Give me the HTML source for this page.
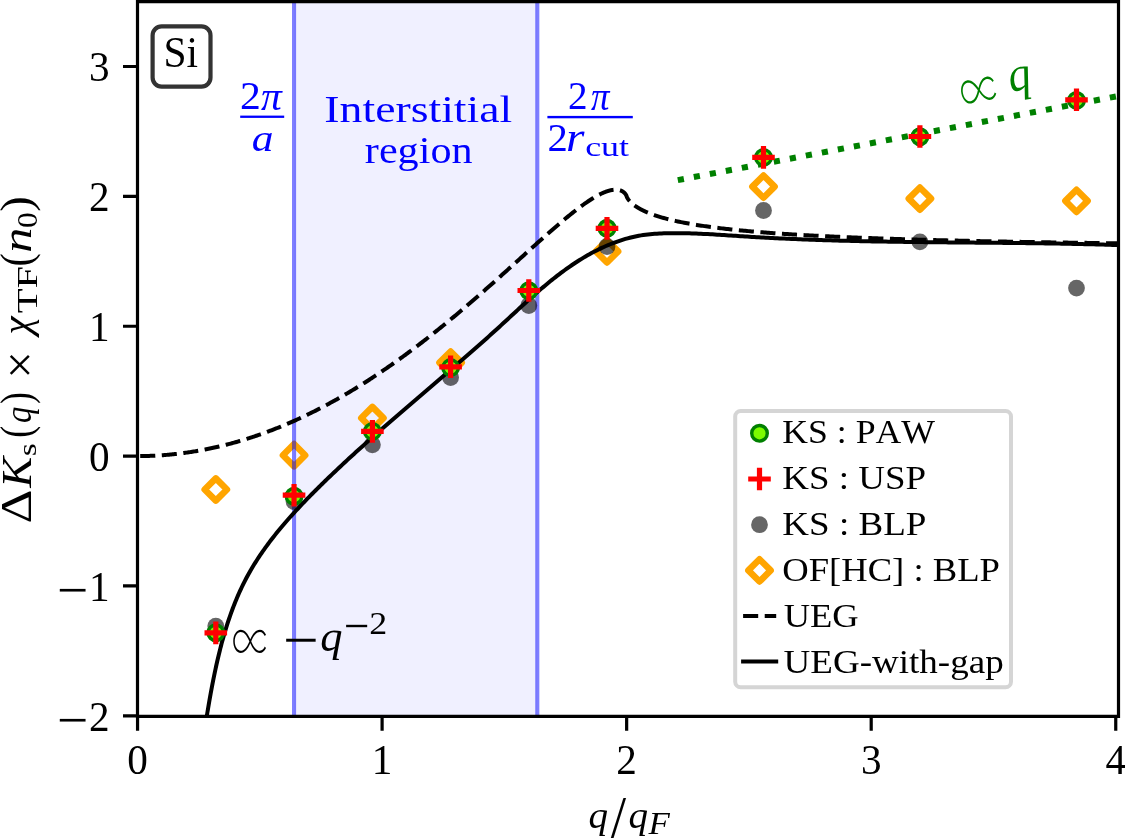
<!DOCTYPE html><html><head><meta charset="utf-8"><title>Delta K_s plot</title><style>html,body{margin:0;padding:0;background:#fff;}svg{display:block;}text{font-family:"Liberation Serif","DejaVu Serif",serif;font-kerning:none;}</style></head><body>
<svg width="1125" height="838" viewBox="0 0 1125 838">
<defs><clipPath id="ax"><rect x="137.5" y="1.6" width="981.0" height="714.6999999999999"/></clipPath></defs>
<rect x="0" y="0" width="1125" height="838" fill="#fff"/>
<rect x="294.05" y="1.6" width="243.24999999999994" height="714.6999999999999" fill="#f0f0ff"/>
<g clip-path="url(#ax)">
<path d="M215.8 478.35 L226.95 489.5 L215.8 500.65 L204.65 489.5 Z" fill="none" stroke="#ffa500" stroke-width="6.5" stroke-linejoin="round"/>
<path d="M294.05 444.05 L305.2 455.2 L294.05 466.35 L282.9 455.2 Z" fill="none" stroke="#ffa500" stroke-width="6.5" stroke-linejoin="round"/>
<path d="M372.4 406.85 L383.55 418 L372.4 429.15 L361.25 418 Z" fill="none" stroke="#ffa500" stroke-width="6.5" stroke-linejoin="round"/>
<path d="M450.6 351.45 L461.75 362.6 L450.6 373.75 L439.45 362.6 Z" fill="none" stroke="#ffa500" stroke-width="6.5" stroke-linejoin="round"/>
<path d="M607 240.25 L618.15 251.4 L607 262.55 L595.85 251.4 Z" fill="none" stroke="#ffa500" stroke-width="6.5" stroke-linejoin="round"/>
<path d="M763.5 175.45 L774.65 186.6 L763.5 197.75 L752.35 186.6 Z" fill="none" stroke="#ffa500" stroke-width="6.5" stroke-linejoin="round"/>
<path d="M919.9 187.45 L931.05 198.6 L919.9 209.75 L908.75 198.6 Z" fill="none" stroke="#ffa500" stroke-width="6.5" stroke-linejoin="round"/>
<path d="M1076.5 189.75 L1087.65 200.9 L1076.5 212.05 L1065.35 200.9 Z" fill="none" stroke="#ffa500" stroke-width="6.5" stroke-linejoin="round"/>
<path d="M294.05 1.6 V716.3 M537.3 1.6 V716.3" stroke="#0000ff" stroke-opacity="0.5" stroke-width="4.1" fill="none"/>
<circle cx="215.8" cy="626.1" r="8.4" fill="#000" fill-opacity="0.6"/>
<circle cx="294.05" cy="501.5" r="8.4" fill="#000" fill-opacity="0.6"/>
<circle cx="372.4" cy="444.8" r="8.4" fill="#000" fill-opacity="0.6"/>
<circle cx="450.6" cy="377.5" r="8.4" fill="#000" fill-opacity="0.6"/>
<circle cx="528.8" cy="305.5" r="8.4" fill="#000" fill-opacity="0.6"/>
<circle cx="607" cy="246.5" r="8.4" fill="#000" fill-opacity="0.6"/>
<circle cx="763.5" cy="210.5" r="8.4" fill="#000" fill-opacity="0.6"/>
<circle cx="919.9" cy="241.9" r="8.4" fill="#000" fill-opacity="0.6"/>
<circle cx="1076.5" cy="288.1" r="8.4" fill="#000" fill-opacity="0.6"/>
<path d="M137.55 456.1 L138.71 456.1 L139.88 456.09 L141.04 456.08 L142.21 456.07 L143.37 456.05 L144.54 456.03 L145.7 456 L146.87 455.97 L148.03 455.94 L149.2 455.9 L150.36 455.86 L151.52 455.82 L152.69 455.77 L153.85 455.72 L155.02 455.66 L156.18 455.6 L157.35 455.53 L158.51 455.46 L159.68 455.39 L160.84 455.31 L162 455.23 L163.17 455.15 L164.33 455.06 L165.5 454.97 L166.66 454.87 L167.83 454.77 L168.99 454.67 L170.16 454.56 L171.32 454.45 L172.49 454.33 L173.65 454.21 L174.81 454.09 L175.98 453.96 L177.14 453.83 L178.31 453.7 L179.47 453.56 L180.64 453.41 L181.8 453.27 L182.97 453.12 L184.13 452.96 L185.3 452.8 L186.46 452.64 L187.62 452.47 L188.79 452.3 L189.95 452.13 L191.12 451.95 L192.28 451.77 L193.45 451.58 L194.61 451.39 L195.78 451.2 L196.94 451 L198.11 450.8 L199.27 450.59 L200.43 450.38 L201.6 450.17 L202.76 449.95 L203.93 449.73 L205.09 449.5 L206.26 449.27 L207.42 449.04 L208.59 448.81 L209.75 448.56 L210.92 448.32 L212.08 448.07 L213.24 447.82 L214.41 447.56 L215.57 447.3 L216.74 447.04 L217.9 446.77 L219.07 446.5 L220.23 446.22 L221.4 445.94 L222.56 445.66 L223.72 445.37 L224.89 445.08 L226.05 444.79 L227.22 444.49 L228.38 444.18 L229.55 443.88 L230.71 443.57 L231.88 443.25 L233.04 442.93 L234.21 442.61 L235.37 442.29 L236.53 441.96 L237.7 441.62 L238.86 441.28 L240.03 440.94 L241.19 440.6 L242.36 440.25 L243.52 439.89 L244.69 439.54 L245.85 439.18 L247.02 438.81 L248.18 438.44 L249.34 438.07 L250.51 437.7 L251.67 437.32 L252.84 436.93 L254 436.54 L255.17 436.15 L256.33 435.76 L257.5 435.36 L258.66 434.96 L259.82 434.55 L260.99 434.14 L262.15 433.72 L263.32 433.31 L264.48 432.88 L265.65 432.46 L266.81 432.03 L267.98 431.59 L269.14 431.16 L270.31 430.72 L271.47 430.27 L272.63 429.82 L273.8 429.37 L274.96 428.91 L276.13 428.45 L277.29 427.99 L278.46 427.52 L279.62 427.05 L280.79 426.58 L281.95 426.1 L283.12 425.62 L284.28 425.13 L285.44 424.64 L286.61 424.15 L287.77 423.65 L288.94 423.15 L290.1 422.64 L291.27 422.13 L292.43 421.62 L293.6 421.1 L294.76 420.58 L295.93 420.06 L297.09 419.53 L298.25 419 L299.42 418.47 L300.58 417.93 L301.75 417.38 L302.91 416.84 L304.08 416.29 L305.24 415.73 L306.41 415.18 L307.57 414.62 L308.74 414.05 L309.9 413.48 L311.06 412.91 L312.23 412.33 L313.39 411.76 L314.56 411.17 L315.72 410.59 L316.89 409.99 L318.05 409.4 L319.22 408.8 L320.38 408.2 L321.54 407.6 L322.71 406.99 L323.87 406.38 L325.04 405.76 L326.2 405.14 L327.37 404.52 L328.53 403.89 L329.7 403.26 L330.86 402.62 L332.03 401.99 L333.19 401.35 L334.35 400.7 L335.52 400.05 L336.68 399.4 L337.85 398.74 L339.01 398.08 L340.18 397.42 L341.34 396.76 L342.51 396.09 L343.67 395.41 L344.84 394.74 L346 394.05 L347.16 393.37 L348.33 392.68 L349.49 391.99 L350.66 391.3 L351.82 390.6 L352.99 389.9 L354.15 389.19 L355.32 388.48 L356.48 387.77 L357.64 387.05 L358.81 386.34 L359.97 385.61 L361.14 384.89 L362.3 384.16 L363.47 383.42 L364.63 382.69 L365.8 381.95 L366.96 381.2 L368.13 380.46 L369.29 379.71 L370.45 378.95 L371.62 378.2 L372.78 377.44 L373.95 376.67 L375.11 375.91 L376.28 375.13 L377.44 374.36 L378.61 373.58 L379.77 372.8 L380.94 372.02 L382.1 371.23 L383.26 370.44 L384.43 369.65 L385.59 368.85 L386.76 368.05 L387.92 367.25 L389.09 366.44 L390.25 365.63 L391.42 364.82 L392.58 364 L393.75 363.18 L394.91 362.36 L396.07 361.53 L397.24 360.7 L398.4 359.87 L399.57 359.03 L400.73 358.19 L401.9 357.35 L403.06 356.5 L404.23 355.66 L405.39 354.8 L406.56 353.95 L407.72 353.09 L408.88 352.23 L410.05 351.37 L411.21 350.5 L412.38 349.63 L413.54 348.76 L414.71 347.88 L415.87 347 L417.04 346.12 L418.2 345.23 L419.36 344.34 L420.53 343.45 L421.69 342.56 L422.86 341.66 L424.02 340.76 L425.19 339.86 L426.35 338.95 L427.52 338.04 L428.68 337.13 L429.85 336.22 L431.01 335.3 L432.17 334.38 L433.34 333.46 L434.5 332.53 L435.67 331.6 L436.83 330.67 L438 329.74 L439.16 328.8 L440.33 327.86 L441.49 326.92 L442.66 325.98 L443.82 325.03 L444.98 324.08 L446.15 323.13 L447.31 322.17 L448.48 321.22 L449.64 320.26 L450.81 319.29 L451.97 318.33 L453.14 317.36 L454.3 316.39 L455.46 315.42 L456.63 314.44 L457.79 313.47 L458.96 312.49 L460.12 311.51 L461.29 310.52 L462.45 309.54 L463.62 308.55 L464.78 307.56 L465.95 306.56 L467.11 305.57 L468.27 304.57 L469.44 303.57 L470.6 302.57 L471.77 301.57 L472.93 300.56 L474.1 299.55 L475.26 298.54 L476.43 297.53 L477.59 296.52 L478.76 295.5 L479.92 294.49 L481.08 293.47 L482.25 292.45 L483.41 291.42 L484.58 290.4 L485.74 289.37 L486.91 288.35 L488.07 287.32 L489.24 286.29 L490.4 285.26 L491.57 284.22 L492.73 283.19 L493.89 282.15 L495.06 281.11 L496.22 280.08 L497.39 279.04 L498.55 277.99 L499.72 276.95 L500.88 275.91 L502.05 274.86 L503.21 273.82 L504.38 272.77 L505.54 271.72 L506.7 270.68 L507.87 269.63 L509.03 268.58 L510.2 267.53 L511.36 266.48 L512.53 265.43 L513.69 264.37 L514.86 263.32 L516.02 262.27 L517.18 261.22 L518.35 260.16 L519.51 259.11 L520.68 258.06 L521.84 257 L523.01 255.95 L524.17 254.9 L525.34 253.85 L526.5 252.79 L527.67 251.74 L528.83 250.69 L529.99 249.64 L531.16 248.59 L532.32 247.54 L533.49 246.49 L534.65 245.45 L535.82 244.4 L536.98 243.36 L538.15 242.31 L539.31 241.27 L540.48 240.23 L541.64 239.19 L542.8 238.16 L543.97 237.12 L545.13 236.09 L546.3 235.06 L547.46 234.03 L548.63 233.01 L549.79 231.99 L550.96 230.97 L552.12 229.95 L553.28 228.94 L554.45 227.93 L555.61 226.92 L556.78 225.92 L557.94 224.92 L559.11 223.93 L560.27 222.94 L561.44 221.95 L562.6 220.97 L563.77 220 L564.93 219.03 L566.09 218.06 L567.26 217.1 L568.42 216.15 L569.59 215.21 L570.75 214.27 L571.92 213.34 L573.08 212.41 L574.25 211.5 L575.41 210.59 L576.58 209.69 L577.74 208.8 L578.9 207.92 L580.07 207.05 L581.23 206.19 L582.4 205.34 L583.56 204.5 L584.73 203.67 L585.89 202.86 L587.06 202.06 L588.22 201.27 L589.39 200.5 L590.55 199.75 L591.71 199.01 L592.88 198.28 L594.04 197.58 L595.21 196.89 L596.37 196.23 L597.54 195.58 L598.7 194.96 L599.87 194.36 L601.03 193.79 L602.19 193.24 L602.32 193.19 L602.44 193.13 L602.56 193.08 L602.69 193.02 L602.81 192.97 L602.93 192.91 L603.06 192.86 L603.18 192.81 L603.3 192.75 L603.42 192.7 L603.55 192.65 L603.67 192.59 L603.79 192.54 L603.92 192.49 L604.04 192.44 L604.16 192.39 L604.28 192.34 L604.41 192.29 L604.53 192.24 L604.65 192.19 L604.78 192.14 L604.9 192.09 L605.02 192.04 L605.14 191.99 L605.27 191.95 L605.39 191.9 L605.51 191.85 L605.64 191.81 L605.76 191.76 L605.88 191.71 L606 191.67 L606.13 191.62 L606.25 191.58 L606.37 191.54 L606.5 191.49 L606.62 191.45 L606.74 191.41 L606.86 191.36 L606.99 191.32 L607.11 191.28 L607.23 191.24 L607.36 191.2 L607.48 191.16 L607.6 191.12 L607.73 191.08 L607.85 191.04 L607.97 191 L608.09 190.96 L608.22 190.93 L608.34 190.89 L608.46 190.85 L608.59 190.82 L608.71 190.78 L608.83 190.75 L608.95 190.71 L609.08 190.68 L609.2 190.64 L609.32 190.61 L609.45 190.58 L609.57 190.54 L609.69 190.51 L609.81 190.48 L609.94 190.45 L610.06 190.42 L610.18 190.39 L610.31 190.36 L610.43 190.33 L610.55 190.3 L610.67 190.28 L610.8 190.25 L610.92 190.22 L611.04 190.2 L611.17 190.17 L611.29 190.15 L611.41 190.12 L611.53 190.1 L611.66 190.08 L611.78 190.05 L611.9 190.03 L612.03 190.01 L612.15 189.99 L612.27 189.97 L612.39 189.95 L612.52 189.93 L612.64 189.91 L612.76 189.89 L612.89 189.88 L613.01 189.86 L613.13 189.85 L613.26 189.83 L613.38 189.82 L613.5 189.8 L613.62 189.79 L613.75 189.78 L613.87 189.77 L613.99 189.76 L614.12 189.75 L614.24 189.74 L614.36 189.73 L614.48 189.72 L614.61 189.71 L614.73 189.71 L614.85 189.7 L614.98 189.69 L615.1 189.69 L615.22 189.69 L615.34 189.68 L615.47 189.68 L615.59 189.68 L615.71 189.68 L615.84 189.68 L615.96 189.68 L616.08 189.69 L616.2 189.69 L616.33 189.69 L616.45 189.7 L616.57 189.7 L616.7 189.71 L616.82 189.72 L616.94 189.73 L617.06 189.74 L617.19 189.75 L617.31 189.76 L617.43 189.77 L617.56 189.79 L617.68 189.8 L617.8 189.82 L617.92 189.83 L618.05 189.85 L618.17 189.87 L618.29 189.89 L618.42 189.91 L618.54 189.93 L618.66 189.96 L618.79 189.98 L618.91 190.01 L619.03 190.03 L619.15 190.06 L619.28 190.09 L619.4 190.12 L619.52 190.15 L619.65 190.19 L619.77 190.22 L619.89 190.26 L620.01 190.3 L620.14 190.33 L620.26 190.37 L620.38 190.42 L620.51 190.46 L620.63 190.5 L620.75 190.55 L620.87 190.6 L621 190.65 L621.12 190.7 L621.24 190.75 L621.37 190.81 L621.49 190.86 L621.61 190.92 L621.73 190.98 L621.86 191.04 L621.98 191.11 L622.1 191.17 L622.23 191.24 L622.35 191.31 L622.47 191.38 L622.59 191.46 L622.72 191.53 L622.84 191.61 L622.96 191.69 L623.09 191.78 L623.21 191.87 L623.33 191.95 L623.45 192.05 L623.58 192.14 L623.7 192.24 L623.82 192.34 L623.95 192.45 L624.07 192.55 L624.19 192.66 L624.32 192.78 L624.44 192.9 L624.56 193.02 L624.68 193.15 L624.81 193.28 L624.93 193.42 L625.05 193.56 L625.18 193.71 L625.3 193.86 L625.42 194.02 L625.54 194.19 L625.67 194.37 L625.79 194.55 L625.91 194.75 L626.04 194.95 L626.16 195.17 L626.28 195.41 L626.4 195.67 L626.53 195.97 L626.65 196.36 L626.77 196.75 L626.9 197.05 L627.02 197.32 L627.14 197.57 L627.26 197.81 L627.39 198.03 L627.51 198.24 L627.63 198.44 L627.76 198.64 L627.88 198.83 L628 199.01 L628.12 199.19 L628.25 199.36 L628.37 199.53 L628.49 199.7 L628.62 199.86 L628.74 200.02 L628.86 200.17 L628.98 200.32 L629.11 200.47 L629.23 200.62 L629.35 200.76 L629.48 200.9 L629.6 201.04 L629.72 201.18 L629.85 201.31 L629.97 201.45 L630.09 201.58 L630.21 201.71 L630.34 201.83 L630.46 201.96 L630.58 202.08 L630.71 202.21 L630.83 202.33 L630.95 202.45 L631.07 202.56 L631.2 202.68 L631.32 202.8 L631.44 202.91 L631.57 203.02 L631.69 203.13 L631.81 203.24 L631.93 203.35 L632.06 203.46 L632.18 203.57 L632.3 203.67 L632.43 203.78 L632.55 203.88 L632.67 203.98 L632.79 204.09 L632.92 204.19 L633.04 204.29 L633.16 204.38 L633.29 204.48 L633.41 204.58 L633.53 204.68 L633.65 204.77 L633.78 204.87 L633.9 204.96 L634.02 205.05 L634.15 205.15 L634.27 205.24 L634.39 205.33 L634.51 205.42 L634.64 205.51 L634.76 205.6 L634.88 205.69 L635.01 205.77 L635.13 205.86 L635.25 205.95 L635.38 206.03 L635.5 206.12 L635.62 206.2 L635.74 206.29 L635.87 206.37 L635.99 206.45 L636.11 206.54 L636.24 206.62 L636.36 206.7 L636.48 206.78 L636.6 206.86 L636.73 206.94 L636.85 207.02 L636.97 207.1 L637.1 207.17 L637.22 207.25 L637.34 207.33 L637.46 207.41 L637.59 207.48 L637.71 207.56 L637.83 207.63 L637.96 207.71 L638.08 207.78 L638.2 207.86 L638.32 207.93 L638.45 208 L638.57 208.07 L638.69 208.15 L638.82 208.22 L638.94 208.29 L639.06 208.36 L639.18 208.43 L639.31 208.5 L639.43 208.57 L639.55 208.64 L639.68 208.71 L639.8 208.78 L639.92 208.85 L640.04 208.92 L640.17 208.98 L640.29 209.05 L640.41 209.12 L640.54 209.18 L640.66 209.25 L640.78 209.32 L640.91 209.38 L641.03 209.45 L641.15 209.51 L641.27 209.58 L641.4 209.64 L641.52 209.7 L641.64 209.77 L641.77 209.83 L641.89 209.89 L642.01 209.96 L642.13 210.02 L642.26 210.08 L642.38 210.14 L642.5 210.2 L642.63 210.27 L642.75 210.33 L642.87 210.39 L642.99 210.45 L643.12 210.51 L643.24 210.57 L643.36 210.63 L643.49 210.69 L643.61 210.75 L643.73 210.8 L643.85 210.86 L643.98 210.92 L644.1 210.98 L644.22 211.04 L644.35 211.09 L644.47 211.15 L644.59 211.21 L644.71 211.27 L644.84 211.32 L644.96 211.38 L645.08 211.43 L645.21 211.49 L645.33 211.55 L645.45 211.6 L645.57 211.66 L645.7 211.71 L645.82 211.77 L645.94 211.82 L646.07 211.87 L646.19 211.93 L646.31 211.98 L646.44 212.04 L646.56 212.09 L646.68 212.14 L646.8 212.2 L646.93 212.25 L647.05 212.3 L647.17 212.35 L647.3 212.41 L647.42 212.46 L647.54 212.51 L647.66 212.56 L647.79 212.61 L647.91 212.66 L648.03 212.71 L648.16 212.76 L648.28 212.81 L648.4 212.87 L648.52 212.92 L648.65 212.97 L648.77 213.02 L648.89 213.06 L649.02 213.11 L649.14 213.16 L649.26 213.21 L649.38 213.26 L649.51 213.31 L649.63 213.36 L649.75 213.41 L649.88 213.46 L650 213.5 L650.12 213.55 L650.24 213.6 L650.37 213.65 L650.49 213.69 L650.61 213.74 L650.74 213.79 L650.86 213.83 L650.98 213.88 L651.11 213.93 L652.68 214.51 L654.25 215.07 L655.82 215.6 L657.39 216.11 L658.96 216.61 L660.53 217.09 L662.1 217.55 L663.67 217.99 L665.24 218.42 L666.81 218.84 L668.38 219.25 L669.95 219.64 L671.52 220.02 L673.09 220.39 L674.66 220.75 L676.23 221.1 L677.8 221.44 L679.37 221.77 L680.94 222.09 L682.51 222.41 L684.08 222.71 L685.65 223.01 L687.22 223.31 L688.79 223.59 L690.36 223.87 L691.93 224.14 L693.5 224.41 L695.07 224.67 L696.65 224.93 L698.22 225.17 L699.79 225.42 L701.36 225.66 L702.93 225.89 L704.5 226.12 L706.07 226.35 L707.64 226.57 L709.21 226.79 L710.78 227 L712.35 227.21 L713.92 227.41 L715.49 227.61 L717.06 227.81 L718.63 228 L720.2 228.19 L721.77 228.38 L723.34 228.56 L724.91 228.74 L726.48 228.92 L728.05 229.1 L729.62 229.27 L731.19 229.44 L732.76 229.6 L734.33 229.77 L735.9 229.93 L737.47 230.08 L739.04 230.24 L740.62 230.39 L742.19 230.54 L743.76 230.69 L745.33 230.84 L746.9 230.98 L748.47 231.12 L750.04 231.26 L751.61 231.4 L753.18 231.54 L754.75 231.67 L756.32 231.8 L757.89 231.93 L759.46 232.06 L761.03 232.19 L762.6 232.31 L764.17 232.44 L765.74 232.56 L767.31 232.68 L768.88 232.8 L770.45 232.91 L772.02 233.03 L773.59 233.14 L775.16 233.25 L776.73 233.36 L778.3 233.47 L779.87 233.58 L781.44 233.69 L783.01 233.79 L784.59 233.9 L786.16 234 L787.73 234.1 L789.3 234.2 L790.87 234.3 L792.44 234.4 L794.01 234.49 L795.58 234.59 L797.15 234.68 L798.72 234.77 L800.29 234.87 L801.86 234.96 L803.43 235.05 L805 235.14 L806.57 235.22 L808.14 235.31 L809.71 235.4 L811.28 235.48 L812.85 235.57 L814.42 235.65 L815.99 235.73 L817.56 235.81 L819.13 235.89 L820.7 235.97 L822.27 236.05 L823.84 236.13 L825.41 236.2 L826.98 236.28 L828.56 236.35 L830.13 236.43 L831.7 236.5 L833.27 236.58 L834.84 236.65 L836.41 236.72 L837.98 236.79 L839.55 236.86 L841.12 236.93 L842.69 237 L844.26 237.06 L845.83 237.13 L847.4 237.2 L848.97 237.26 L850.54 237.33 L852.11 237.39 L853.68 237.46 L855.25 237.52 L856.82 237.58 L858.39 237.65 L859.96 237.71 L861.53 237.77 L863.1 237.83 L864.67 237.89 L866.24 237.95 L867.81 238.01 L869.38 238.06 L870.95 238.12 L872.52 238.18 L874.1 238.23 L875.67 238.29 L877.24 238.35 L878.81 238.4 L880.38 238.46 L881.95 238.51 L883.52 238.56 L885.09 238.62 L886.66 238.67 L888.23 238.72 L889.8 238.77 L891.37 238.82 L892.94 238.87 L894.51 238.92 L896.08 238.97 L897.65 239.02 L899.22 239.07 L900.79 239.12 L902.36 239.17 L903.93 239.22 L905.5 239.26 L907.07 239.31 L908.64 239.36 L910.21 239.4 L911.78 239.45 L913.35 239.49 L914.92 239.54 L916.49 239.58 L918.07 239.63 L919.64 239.67 L921.21 239.71 L922.78 239.76 L924.35 239.8 L925.92 239.84 L927.49 239.88 L929.06 239.93 L930.63 239.97 L932.2 240.01 L933.77 240.05 L935.34 240.09 L936.91 240.13 L938.48 240.17 L940.05 240.21 L941.62 240.25 L943.19 240.29 L944.76 240.32 L946.33 240.36 L947.9 240.4 L949.47 240.44 L951.04 240.48 L952.61 240.51 L954.18 240.55 L955.75 240.59 L957.32 240.62 L958.89 240.66 L960.46 240.69 L962.04 240.73 L963.61 240.76 L965.18 240.8 L966.75 240.83 L968.32 240.87 L969.89 240.9 L971.46 240.94 L973.03 240.97 L974.6 241 L976.17 241.04 L977.74 241.07 L979.31 241.1 L980.88 241.13 L982.45 241.17 L984.02 241.2 L985.59 241.23 L987.16 241.26 L988.73 241.29 L990.3 241.32 L991.87 241.36 L993.44 241.39 L995.01 241.42 L996.58 241.45 L998.15 241.48 L999.72 241.51 L1001.29 241.54 L1002.86 241.56 L1004.43 241.59 L1006.01 241.62 L1007.58 241.65 L1009.15 241.68 L1010.72 241.71 L1012.29 241.74 L1013.86 241.76 L1015.43 241.79 L1017 241.82 L1018.57 241.85 L1020.14 241.87 L1021.71 241.9 L1023.28 241.93 L1024.85 241.96 L1026.42 241.98 L1027.99 242.01 L1029.56 242.03 L1031.13 242.06 L1032.7 242.09 L1034.27 242.11 L1035.84 242.14 L1037.41 242.16 L1038.98 242.19 L1040.55 242.21 L1042.12 242.24 L1043.69 242.26 L1045.26 242.29 L1046.83 242.31 L1048.4 242.34 L1049.98 242.36 L1051.55 242.38 L1053.12 242.41 L1054.69 242.43 L1056.26 242.45 L1057.83 242.48 L1059.4 242.5 L1060.97 242.52 L1062.54 242.55 L1064.11 242.57 L1065.68 242.59 L1067.25 242.61 L1068.82 242.64 L1070.39 242.66 L1071.96 242.68 L1073.53 242.7 L1075.1 242.72 L1076.67 242.75 L1078.24 242.77 L1079.81 242.79 L1081.38 242.81 L1082.95 242.83 L1084.52 242.85 L1086.09 242.87 L1087.66 242.89 L1089.23 242.91 L1090.8 242.93 L1092.37 242.95 L1093.94 242.97 L1095.52 242.99 L1097.09 243.01 L1098.66 243.03 L1100.23 243.05 L1101.8 243.07 L1103.37 243.09 L1104.94 243.11 L1106.51 243.13 L1108.08 243.15 L1109.65 243.17 L1111.22 243.19 L1112.79 243.21 L1114.36 243.23 L1115.93 243.25 L1117.5 243.26 L1119.07 243.28 L1120.64 243.3" fill="none" stroke="#000" stroke-width="4" stroke-dasharray="15.09 6.53" stroke-dashoffset="18.97" stroke-linejoin="round"/>
<path d="M206.51 721.92 L206.81 715.92 L207.18 713.73 L207.55 711.52 L207.92 709.32 L208.3 707.1 L208.68 704.88 L209.06 702.65 L209.45 700.42 L209.85 698.18 L210.25 695.94 L210.66 693.7 L211.07 691.45 L211.49 689.2 L211.91 686.94 L212.34 684.68 L212.78 682.42 L213.22 680.16 L213.68 677.89 L214.14 675.62 L214.61 673.35 L215.08 671.08 L215.57 668.81 L216.06 666.54 L216.56 664.27 L217.07 662 L217.59 659.72 L218.13 657.45 L218.67 655.18 L219.22 652.91 L219.78 650.65 L220.35 648.38 L220.94 646.12 L221.53 643.86 L222.14 641.6 L222.76 639.35 L223.39 637.1 L224.03 634.85 L224.69 632.61 L225.36 630.37 L226.04 628.14 L226.74 625.91 L227.45 623.69 L228.17 621.47 L228.91 619.26 L229.66 617.05 L230.43 614.85 L231.21 612.66 L232.01 610.48 L232.82 608.3 L233.65 606.13 L234.49 603.97 L235.36 601.82 L236.23 599.67 L237.13 597.54 L238.04 595.41 L238.97 593.29 L239.92 591.19 L240.89 589.09 L241.87 587.01 L242.87 584.93 L243.89 582.87 L244.93 580.82 L245.99 578.78 L247.07 576.75 L248.17 574.74 L249.29 572.73 L250.42 570.74 L251.58 568.76 L252.75 566.79 L253.94 564.83 L255.14 562.88 L256.37 560.95 L257.61 559.02 L258.86 557.1 L260.14 555.2 L261.42 553.3 L262.73 551.42 L264.05 549.54 L265.38 547.68 L266.73 545.82 L268.09 543.97 L269.46 542.14 L270.85 540.31 L272.25 538.49 L273.67 536.68 L275.09 534.88 L276.53 533.08 L277.98 531.3 L279.45 529.52 L280.92 527.75 L282.4 525.99 L283.9 524.23 L285.4 522.49 L286.92 520.75 L288.44 519.01 L289.97 517.29 L291.52 515.57 L293.07 513.86 L294.63 512.15 L296.19 510.45 L297.77 508.76 L299.35 507.07 L300.94 505.39 L302.53 503.72 L304.14 502.05 L305.74 500.38 L307.36 498.72 L308.98 497.07 L310.6 495.42 L312.23 493.77 L313.86 492.13 L315.5 490.5 L317.14 488.87 L318.78 487.24 L320.43 485.62 L322.08 484 L323.74 482.38 L325.39 480.77 L327.05 479.16 L328.72 477.56 L330.38 475.96 L332.05 474.36 L333.73 472.77 L335.4 471.18 L337.08 469.59 L338.76 468.01 L340.44 466.43 L342.13 464.85 L343.82 463.28 L345.51 461.71 L347.21 460.14 L348.9 458.58 L350.6 457.02 L352.3 455.46 L354.01 453.9 L355.71 452.35 L357.42 450.8 L359.13 449.25 L360.84 447.71 L362.55 446.16 L364.27 444.63 L365.99 443.09 L367.71 441.55 L369.43 440.02 L371.15 438.49 L372.88 436.96 L374.6 435.43 L376.33 433.91 L378.06 432.39 L379.79 430.86 L381.52 429.35 L383.25 427.83 L384.99 426.31 L386.72 424.8 L388.46 423.29 L390.2 421.78 L391.94 420.27 L393.67 418.76 L395.42 417.25 L397.16 415.75 L398.9 414.24 L400.64 412.74 L402.38 411.24 L404.13 409.73 L405.87 408.23 L407.62 406.74 L409.36 405.24 L411.11 403.74 L412.85 402.24 L414.6 400.75 L416.35 399.25 L418.09 397.75 L419.84 396.26 L421.59 394.77 L423.33 393.27 L425.08 391.78 L426.83 390.28 L428.57 388.79 L430.32 387.3 L432.06 385.8 L433.81 384.31 L435.55 382.82 L437.3 381.32 L439.04 379.83 L440.79 378.33 L442.53 376.84 L444.27 375.34 L446.01 373.85 L447.75 372.35 L449.49 370.86 L451.23 369.36 L452.97 367.86 L454.7 366.36 L456.44 364.86 L458.17 363.36 L459.9 361.86 L461.64 360.36 L463.37 358.85 L465.09 357.35 L466.82 355.84 L468.55 354.34 L470.27 352.83 L471.99 351.32 L473.71 349.81 L475.43 348.29 L477.15 346.78 L478.87 345.26 L480.58 343.74 L482.29 342.22 L484 340.7 L485.71 339.18 L487.41 337.65 L489.12 336.13 L490.82 334.6 L492.52 333.06 L494.21 331.53 L495.91 329.99 L497.6 328.46 L499.29 326.91 L500.97 325.37 L502.65 323.82 L504.34 322.28 L506.02 320.73 L507.69 319.18 L509.37 317.63 L511.05 316.07 L512.72 314.52 L514.4 312.97 L516.07 311.42 L517.75 309.87 L519.42 308.33 L521.1 306.78 L522.78 305.24 L524.47 303.7 L526.15 302.17 L527.84 300.64 L529.53 299.11 L531.22 297.59 L532.92 296.08 L534.63 294.57 L536.33 293.07 L538.05 291.57 L539.76 290.08 L541.49 288.6 L543.22 287.13 L544.95 285.66 L546.7 284.21 L548.45 282.76 L550.2 281.32 L551.97 279.9 L553.74 278.48 L555.53 277.08 L557.32 275.69 L559.12 274.31 L560.93 272.94 L562.75 271.58 L564.58 270.24 L566.42 268.91 L568.28 267.6 L570.14 266.3 L572.02 265.02 L573.91 263.75 L575.81 262.5 L577.72 261.26 L579.65 260.04 L581.6 258.84 L583.55 257.66 L585.52 256.49 L587.51 255.35 L589.51 254.22 L591.52 253.12 L593.54 252.03 L595.58 250.97 L597.63 249.93 L599.7 248.92 L601.78 247.93 L603.87 246.97 L605.97 246.03 L608.08 245.13 L610.2 244.25 L612.34 243.39 L614.49 242.57 L616.64 241.78 L618.81 241.03 L620.99 240.3 L623.18 239.61 L625.37 238.95 L627.58 238.33 L629.8 237.75 L632.02 237.2 L634.25 236.68 L636.5 236.21 L638.75 235.78 L641 235.39 L643.27 235.03 L645.54 234.72 L647.82 234.44 L650.11 234.19 L652.4 233.98 L654.69 233.79 L656.99 233.64 L659.29 233.5 L661.6 233.4 L663.91 233.31 L666.22 233.25 L668.53 233.2 L670.85 233.17 L673.16 233.15 L675.47 233.14 L677.79 233.15 L680.1 233.17 L682.42 233.2 L684.73 233.24 L687.05 233.29 L689.37 233.35 L691.68 233.41 L694 233.49 L696.31 233.58 L698.63 233.67 L700.95 233.77 L703.26 233.88 L705.58 234 L707.9 234.12 L710.21 234.24 L712.53 234.37 L714.85 234.51 L717.16 234.65 L719.48 234.79 L721.8 234.93 L724.11 235.08 L726.43 235.23 L728.75 235.38 L731.06 235.54 L733.38 235.69 L735.7 235.84 L738.01 236 L740.33 236.15 L742.64 236.3 L744.96 236.45 L747.27 236.6 L749.59 236.74 L751.9 236.88 L754.22 237.02 L756.53 237.16 L758.85 237.29 L761.16 237.42 L763.48 237.55 L765.79 237.68 L768.11 237.81 L770.42 237.93 L772.73 238.05 L775.05 238.17 L777.36 238.28 L779.67 238.39 L781.99 238.5 L784.3 238.61 L786.61 238.72 L788.92 238.82 L791.24 238.93 L793.55 239.03 L795.86 239.12 L798.17 239.22 L800.48 239.31 L802.8 239.41 L805.11 239.5 L807.42 239.58 L809.73 239.67 L812.04 239.76 L814.35 239.84 L816.66 239.92 L818.97 240 L821.28 240.07 L823.59 240.15 L825.91 240.22 L828.22 240.29 L830.53 240.37 L832.84 240.43 L835.15 240.5 L837.46 240.57 L839.77 240.63 L842.08 240.69 L844.39 240.75 L846.7 240.81 L849 240.87 L851.31 240.93 L853.62 240.98 L855.93 241.04 L858.24 241.09 L860.55 241.14 L862.86 241.19 L865.17 241.24 L867.48 241.29 L869.79 241.33 L872.1 241.38 L874.41 241.42 L876.71 241.46 L879.02 241.5 L881.33 241.55 L883.64 241.59 L885.95 241.62 L888.26 241.66 L890.57 241.7 L892.87 241.73 L895.18 241.77 L897.49 241.8 L899.8 241.84 L902.11 241.87 L904.42 241.9 L906.73 241.93 L909.03 241.96 L911.34 241.99 L913.65 242.02 L915.96 242.04 L918.27 242.07 L920.58 242.1 L922.88 242.12 L925.19 242.15 L927.5 242.18 L929.81 242.2 L932.12 242.22 L934.43 242.25 L936.73 242.27 L939.04 242.29 L941.35 242.32 L943.66 242.34 L945.97 242.36 L948.28 242.38 L950.58 242.4 L952.89 242.42 L955.2 242.44 L957.51 242.46 L959.82 242.49 L962.13 242.51 L964.44 242.53 L966.74 242.55 L969.05 242.57 L971.36 242.59 L973.67 242.61 L975.98 242.63 L978.29 242.65 L980.6 242.67 L982.91 242.69 L985.22 242.71 L987.53 242.73 L989.84 242.75 L992.15 242.77 L994.45 242.79 L996.76 242.82 L999.07 242.84 L1001.38 242.86 L1003.69 242.88 L1006 242.91 L1008.31 242.93 L1010.62 242.95 L1012.93 242.98 L1015.24 243 L1017.55 243.03 L1019.87 243.06 L1022.18 243.08 L1024.49 243.11 L1026.8 243.14 L1029.11 243.17 L1031.42 243.2 L1033.73 243.23 L1036.04 243.26 L1038.35 243.29 L1040.67 243.32 L1042.98 243.36 L1045.29 243.39 L1047.6 243.43 L1049.91 243.46 L1052.23 243.5 L1054.54 243.54 L1056.85 243.58 L1059.16 243.62 L1061.48 243.66 L1063.79 243.7 L1066.1 243.74 L1068.42 243.79 L1070.73 243.83 L1073.04 243.88 L1075.36 243.93 L1077.67 243.97 L1079.98 244.03 L1082.3 244.08 L1084.61 244.13 L1086.93 244.18 L1089.24 244.24 L1091.56 244.3 L1093.87 244.36 L1096.19 244.42 L1098.5 244.48 L1100.82 244.54 L1103.14 244.6 L1105.45 244.67 L1107.77 244.74 L1110.09 244.81 L1112.4 244.88 L1114.72 244.95 L1117.04 245.03 L1121.5 245.13" fill="none" stroke="#000" stroke-width="4" stroke-linejoin="round" stroke-linecap="square"/>
<path d="M677.8 180.1 L1125 94.73" stroke="#008000" stroke-width="6" stroke-dasharray="6.2 10.09" fill="none"/>
<circle cx="215.8" cy="632.8" r="7.8" fill="#7cfc00" stroke="#008000" stroke-width="3.4"/>
<circle cx="294.05" cy="496.2" r="7.8" fill="#7cfc00" stroke="#008000" stroke-width="3.4"/>
<circle cx="372.4" cy="431.4" r="7.8" fill="#7cfc00" stroke="#008000" stroke-width="3.4"/>
<circle cx="450.6" cy="367.6" r="7.8" fill="#7cfc00" stroke="#008000" stroke-width="3.4"/>
<circle cx="528.8" cy="290.8" r="7.8" fill="#7cfc00" stroke="#008000" stroke-width="3.4"/>
<circle cx="607" cy="228.3" r="7.8" fill="#7cfc00" stroke="#008000" stroke-width="3.4"/>
<circle cx="763.5" cy="157.4" r="7.8" fill="#7cfc00" stroke="#008000" stroke-width="3.4"/>
<circle cx="919.9" cy="136.8" r="7.8" fill="#7cfc00" stroke="#008000" stroke-width="3.4"/>
<circle cx="1076.5" cy="100.4" r="7.8" fill="#7cfc00" stroke="#008000" stroke-width="3.4"/>
<path d="M204.5 632.9 H227.1 M215.8 621.6 V644.2" stroke="#ff0000" stroke-width="5.2" fill="none"/>
<path d="M282.75 495.2 H305.35 M294.05 483.9 V506.5" stroke="#ff0000" stroke-width="5.2" fill="none"/>
<path d="M361.1 431.4 H383.7 M372.4 420.1 V442.7" stroke="#ff0000" stroke-width="5.2" fill="none"/>
<path d="M439.3 366.8 H461.9 M450.6 355.5 V378.1" stroke="#ff0000" stroke-width="5.2" fill="none"/>
<path d="M517.5 290.5 H540.1 M528.8 279.2 V301.8" stroke="#ff0000" stroke-width="5.2" fill="none"/>
<path d="M595.7 228.4 H618.3 M607 217.1 V239.7" stroke="#ff0000" stroke-width="5.2" fill="none"/>
<path d="M752.2 157.4 H774.8 M763.5 146.1 V168.7" stroke="#ff0000" stroke-width="5.2" fill="none"/>
<path d="M908.6 136.5 H931.2 M919.9 125.2 V147.8" stroke="#ff0000" stroke-width="5.2" fill="none"/>
<path d="M1065.2 99.8 H1087.8 M1076.5 88.5 V111.1" stroke="#ff0000" stroke-width="5.2" fill="none"/>
</g>
<path d="M137.5 716.3 H1118.5 V1.6 H137.5 Z" fill="none" stroke="#000" stroke-width="3.2" stroke-linejoin="miter" stroke-linecap="square"/>
<path d="M137.55 716.3 V730.8 M382.1 716.3 V730.8 M626.65 716.3 V730.8 M871.2 716.3 V730.8 M1115.75 716.3 V730.8 M137.5 715.84 H123.0 M137.5 585.97 H123.0 M137.5 456.1 H123.0 M137.5 326.23 H123.0 M137.5 196.36 H123.0 M137.5 66.49 H123.0" stroke="#000" stroke-width="3.2" fill="none"/>
<text x="137.55" y="773.9" font-size="41.2" text-anchor="middle">0</text>
<text x="382.1" y="773.9" font-size="41.2" text-anchor="middle">1</text>
<text x="626.65" y="773.9" font-size="41.2" text-anchor="middle">2</text>
<text x="871.2" y="773.9" font-size="41.2" text-anchor="middle">3</text>
<text x="1115.75" y="773.9" font-size="41.2" text-anchor="middle">4</text>
<text x="109.7" y="730.84" font-size="41.2" text-anchor="end">2</text>
<text transform="matrix(1.3457 0 0 1.3158 56.94 737.99)" font-size="41.2" style="font-family:'Liberation Serif', serif;">−</text>
<text x="109.7" y="600.97" font-size="41.2" text-anchor="end">1</text>
<text transform="matrix(1.3457 0 0 1.3158 56.94 608.12)" font-size="41.2" style="font-family:'Liberation Serif', serif;">−</text>
<text x="109.7" y="471.1" font-size="41.2" text-anchor="end">0</text>
<text x="109.7" y="341.23" font-size="41.2" text-anchor="end">1</text>
<text x="109.7" y="211.36" font-size="41.2" text-anchor="end">2</text>
<text x="109.7" y="81.49" font-size="41.2" text-anchor="end">3</text>
<g fill="#0000ff">
<text transform="matrix(1.0415 0 0 1.0044 239.97 108.9)" font-size="40" style="font-family:'Liberation Serif', serif;">2</text>
<text transform="matrix(1.0365 0 0 0.9867 260.88 109.61)" font-size="40" style="font-family:'Liberation Serif', serif;font-style:italic;">π</text>
<rect x="240.2" y="115.6" width="44" height="2.3"/>
<text transform="matrix(1.0864 0 0 0.9512 251.81 151.21)" font-size="40" style="font-family:'Liberation Serif', serif;font-style:italic;">a</text>
<text transform="matrix(1.1021 0 0 0.9349 324.35 122.22)" font-size="41.5" style="font-family:'Liberation Serif', serif;">Interstitial</text>
<text transform="matrix(1.0157 0 0 0.9387 364.86 163.49)" font-size="41.5" style="font-family:'Liberation Serif', serif;">region</text>
<text transform="matrix(0.9791 0 0 1.0157 567.88 108.8)" font-size="40" style="font-family:'Liberation Serif', serif;">2</text>
<text transform="matrix(0.9208 0 0 0.9867 591.1 109.61)" font-size="40" style="font-family:'Liberation Serif', serif;font-style:italic;">π</text>
<rect x="547.4" y="115.9" width="85.4" height="2.4"/>
<text transform="matrix(1.0165 0 0 1.0119 547.51 151.1)" font-size="40" style="font-family:'Liberation Serif', serif;">2</text>
<text transform="matrix(1.1876 0 0 0.9816 566.07 151.1)" font-size="40" style="font-family:'Liberation Serif', serif;font-style:italic;">r</text>
<text transform="matrix(1.2858 0 0 1.0039 585.13 156.23)" font-size="28" style="font-family:'Liberation Serif', serif;">cut</text>
</g>
<text transform="matrix(0.645 0 0 0.9997 232.06 660.81)" font-size="54.8" style="font-family:'Noto Serif CJK SC', 'DejaVu Serif', serif;">∝</text>
<text transform="matrix(1.3782 0 0 1.3095 283.04 659.5)" font-size="46" style="font-family:'Liberation Serif', serif;">−</text>
<text transform="matrix(0.9659 0 0 0.9851 320.22 651.25)" font-size="46" style="font-family:'Liberation Serif', serif;font-style:italic;">q</text>
<text transform="matrix(1.417 0 0 1.5059 343.64 642.2)" font-size="32" style="font-family:'Liberation Serif', serif;">−</text>
<text transform="matrix(1.1225 0 0 0.9628 369.22 633.7)" font-size="32" style="font-family:'Liberation Serif', serif;">2</text>
<g fill="#008000" transform="rotate(-10.8 995 90)">
<text transform="matrix(0.6581 0 0 1.0039 960.01 107.84)" font-size="56" style="font-family:'Noto Serif CJK SC', 'DejaVu Serif', serif;">∝</text>
<text transform="matrix(1.0024 0 0 1.0817 1010 94.94)" font-size="45" style="font-family:'Liberation Serif', serif;font-style:italic;">q</text>
</g>
<rect x="152.6" y="26.4" width="57.9" height="60.2" rx="9" ry="9" fill="#fff" stroke="#333" stroke-width="4.2"/>
<text transform="matrix(0.9209 0 0 0.979 163.53 66.87)" font-size="45" style="font-family:'Liberation Serif', serif;">Si</text>
<text transform="matrix(0.9517 0 0 0.9341 588.5 827.65)" font-size="41" style="font-family:'Liberation Serif', serif;font-style:italic;">q</text>
<text transform="matrix(1.3695 0 0 1.5131 610.4 837.99)" font-size="41" style="font-family:'Liberation Serif', serif;">/</text>
<text transform="matrix(0.9517 0 0 0.9341 628.5 827.65)" font-size="41" style="font-family:'Liberation Serif', serif;font-style:italic;">q</text>
<text transform="matrix(1.2037 0 0 1.0533 648.59 834)" font-size="29" style="font-family:'Liberation Serif', serif;font-style:italic;">F</text>
<g transform="translate(30.8 522) rotate(-90)">
<text transform="matrix(1.2783 0 0 1.0768 -1.62 -0)" font-size="41.5" style="font-family:'Liberation Serif', serif;">Δ</text>
<text transform="matrix(1.1152 0 0 1.0378 34.34 0)" font-size="41.5" style="font-family:'Liberation Serif', serif;font-style:italic;">K</text>
<text transform="matrix(1.1604 0 0 0.889 65.82 5.65)" font-size="29" style="font-family:'Liberation Serif', serif;">s</text>
<text transform="matrix(0.8631 0 0 1.0497 84.23 -0.07)" font-size="41.5" style="font-family:'Liberation Serif', serif;">(</text>
<text transform="matrix(0.7826 0 0 0.9229 99.12 -0.25)" font-size="41.5" style="font-family:'Liberation Serif', serif;font-style:italic;">q</text>
<text transform="matrix(0.8631 0 0 1.0497 118.05 -0.07)" font-size="41.5" style="font-family:'Liberation Serif', serif;">)</text>
<text transform="matrix(1.1671 0 0 1.1657 143.57 5.64)" font-size="41.5" style="font-family:'Liberation Serif', serif;">×</text>
<text transform="matrix(0.9897 0 0 0.9612 187.59 -0.49)" font-size="41.5" style="font-family:'Liberation Serif', serif;font-style:italic;">χ</text>
<text transform="matrix(1.4006 0 0 1.0217 208.77 6.1)" font-size="29" style="font-family:'Liberation Serif', serif;">TF</text>
<text transform="matrix(0.957 0 0 1.0497 255.45 -0.07)" font-size="41.5" style="font-family:'Liberation Serif', serif;">(</text>
<text transform="matrix(1.2081 0 0 0.9614 269.31 0)" font-size="41.5" style="font-family:'Liberation Serif', serif;font-style:italic;">n</text>
<text transform="matrix(1.0902 0 0 1.0016 294 5.72)" font-size="29" style="font-family:'Liberation Serif', serif;">0</text>
<text transform="matrix(1.1258 0 0 1.0497 310.19 -0.07)" font-size="41.5" style="font-family:'Liberation Serif', serif;">)</text>
</g>
<rect x="735.2" y="411.05" width="275.8" height="276.25" rx="5.5" ry="5.5" fill="#fff" fill-opacity="0.8" stroke="#d5d5d5" stroke-width="4"/>
<circle cx="759.5" cy="433.3" r="7.8" fill="#7cfc00" stroke="#008000" stroke-width="3.4"/>
<path d="M748.2 479 H770.8 M759.5 467.7 V490.3" stroke="#ff0000" stroke-width="5.2" fill="none"/>
<circle cx="759.5" cy="524.7" r="8.4" fill="#666"/>
<path d="M759.5 559.25 L770.65 570.4 L759.5 581.55 L748.35 570.4 Z" fill="none" stroke="#ffa500" stroke-width="6.5" stroke-linejoin="round"/>
<path d="M743.1 616.0 H776.2" stroke="#000" stroke-width="4" stroke-dasharray="15.09 6.53"/>
<path d="M743.1 661.6 H776.2" stroke="#000" stroke-width="4" stroke-linecap="square"/>
<text transform="matrix(1.0286 0 0 0.9991 782.27 442.5)" font-size="34.7" style="font-family:'Liberation Serif', serif;">KS : PAW</text>
<text transform="matrix(1.0655 0 0 0.9991 782.23 488.6)" font-size="34.7" style="font-family:'Liberation Serif', serif;">KS : USP</text>
<text transform="matrix(1.0679 0 0 0.9991 782.33 534.7)" font-size="34.7" style="font-family:'Liberation Serif', serif;">KS : BLP</text>
<text transform="matrix(1.0551 0 0 0.9991 782.3 580.8)" font-size="34.7" style="font-family:'Liberation Serif', serif;">OF[HC] : BLP</text>
<text transform="matrix(1.0518 0 0 0.9991 783.63 626.9)" font-size="34.7" style="font-family:'Liberation Serif', serif;">UEG</text>
<text transform="matrix(1.0674 0 0 0.9991 783.62 673)" font-size="34.7" style="font-family:'Liberation Serif', serif;">UEG-with-gap</text>
</svg></body></html>
